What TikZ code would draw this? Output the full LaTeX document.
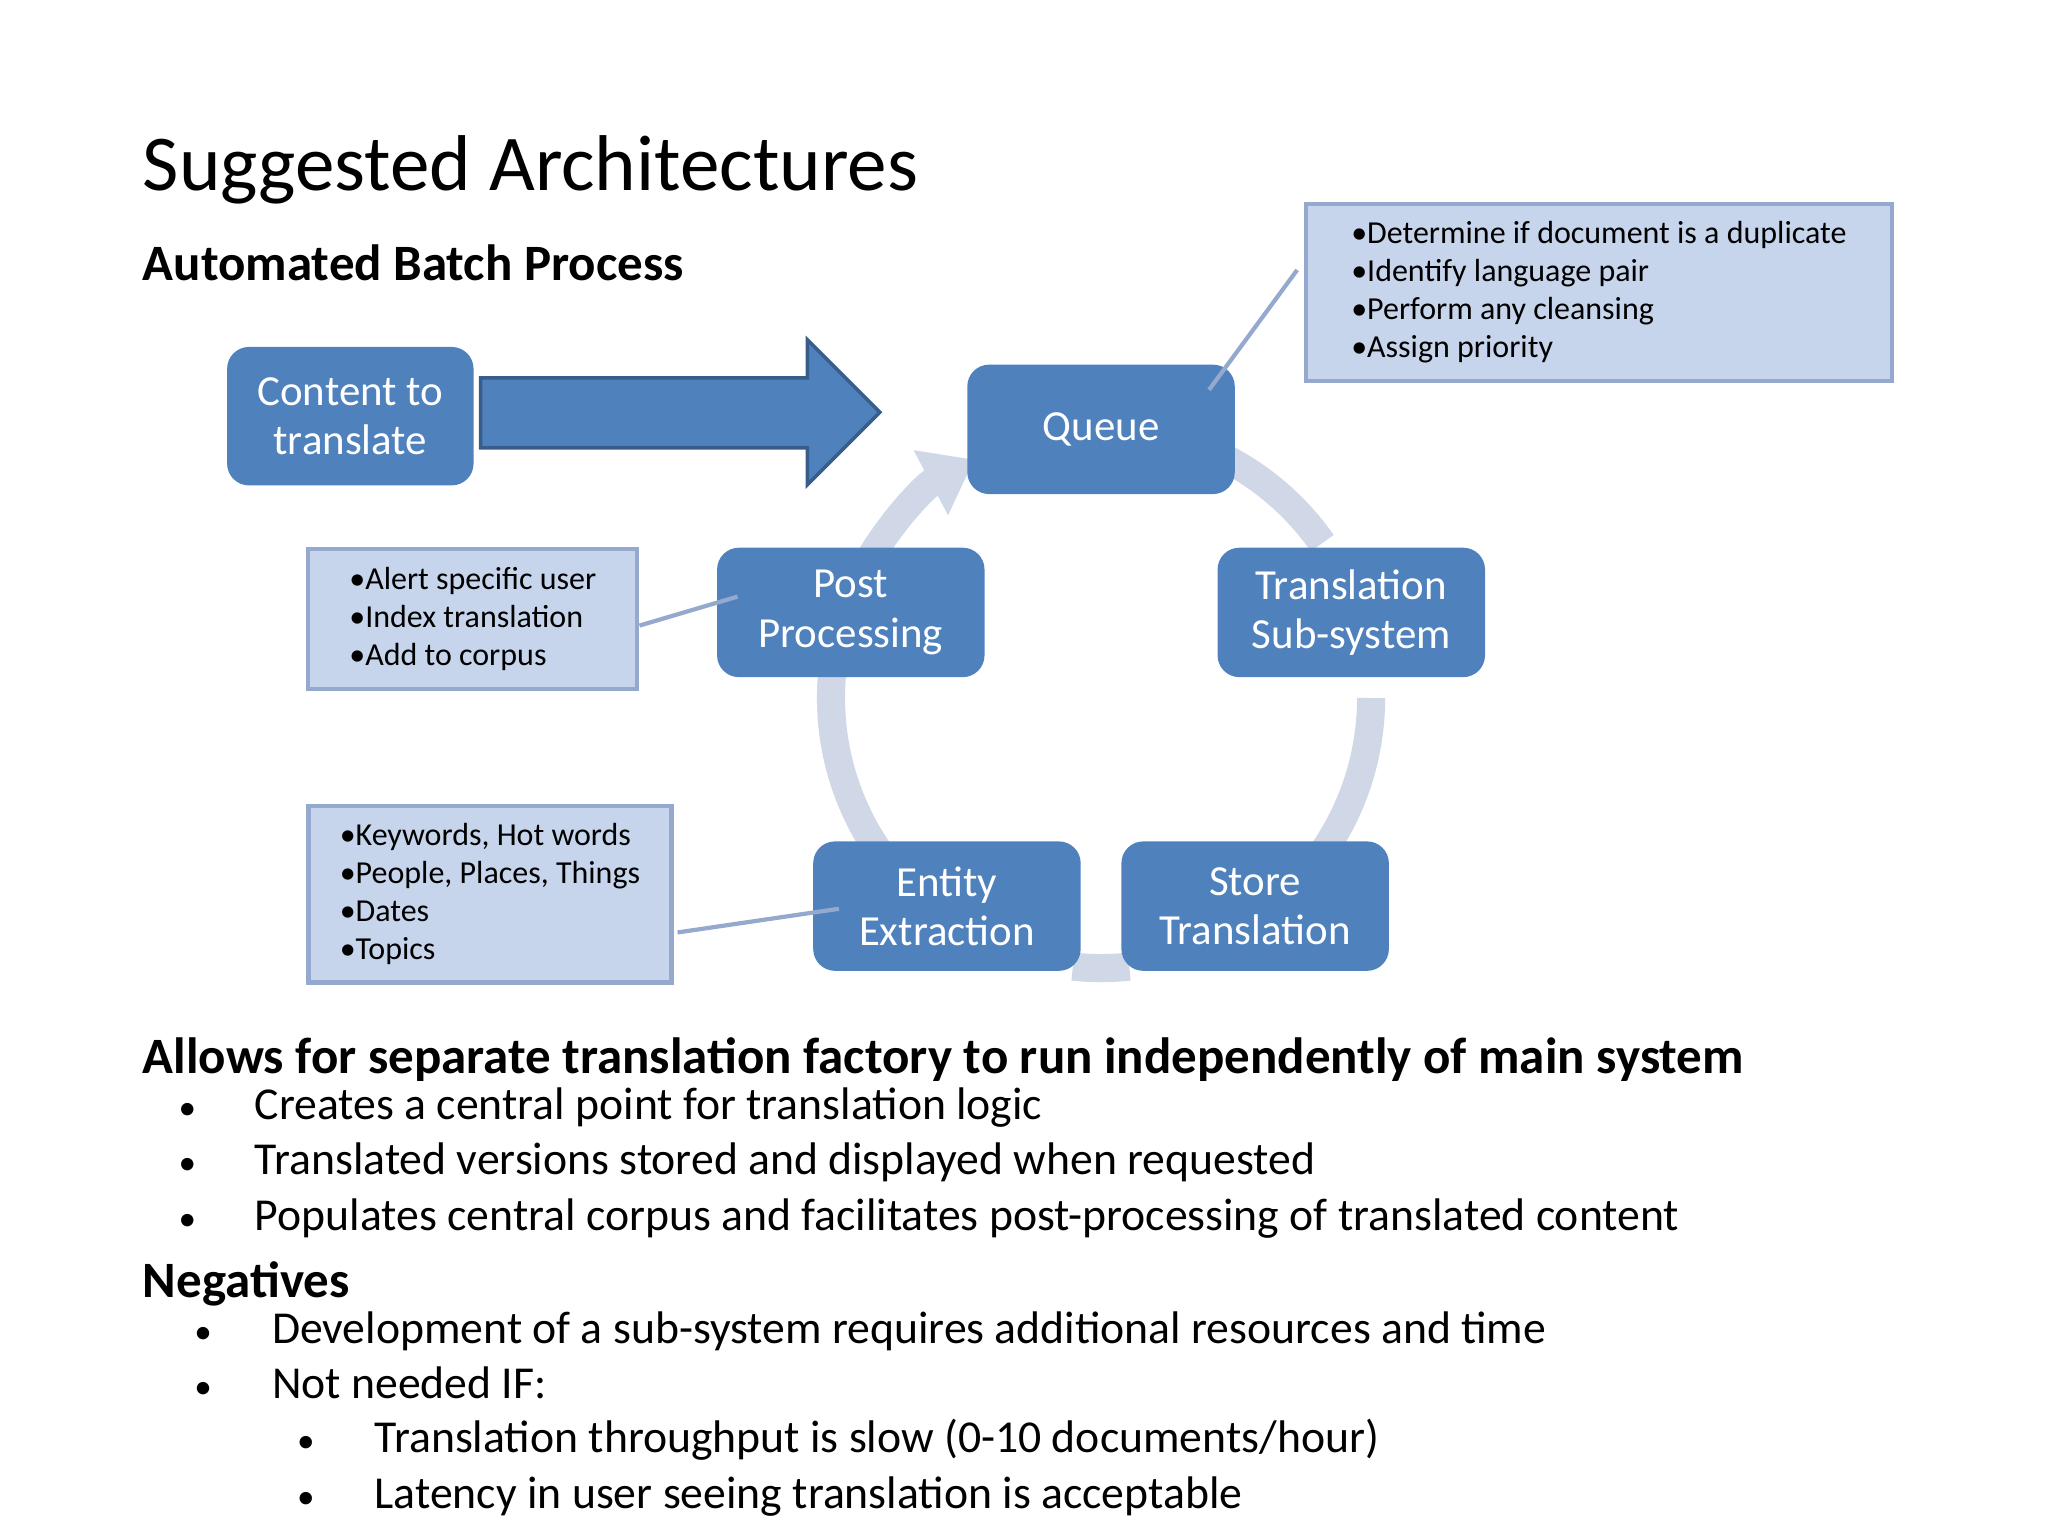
\documentclass[tikz,border=0pt]{standalone}
\usepackage{fontspec}
\setmainfont{Carlito}
\usetikzlibrary{positioning,arrows.meta}
\definecolor{procblue}{HTML}{4F81BD}
\definecolor{procdark}{HTML}{385D8A}
\definecolor{notefill}{HTML}{C6D5EC}
\definecolor{noteline}{HTML}{95A9CF}
\definecolor{cycle}{HTML}{D0D8E8}
\tikzset{
  proc/.style={draw=procblue, fill=procblue, rounded corners=6pt, text=white,
    minimum width=2.66cm, minimum height=1.28cm, align=center, font=\fontsize{12.2}{14}\selectfont},
  note/.style={draw=noteline, line width=1.2pt, fill=notefill, align=left,
    inner sep=5pt, font=\fontsize{9.1}{10.8}\selectfont},
  link/.style={draw=noteline, line width=1.2pt},
  ring/.style={draw=cycle, line width=8pt},
  para/.style={anchor=base west, inner sep=0pt, font=\fontsize{13}{15.6}\selectfont},
  dot/.style={anchor=base west, inner sep=0pt, font=\fontsize{10}{12}\selectfont}
}
\begin{document}
\begin{tikzpicture}[x=0.01317cm, y=0.01317cm]
  \useasboundingbox (0,0) rectangle (1555,1166);

  % Headings
  \node[anchor=base west, inner sep=0pt, font=\fontsize{22.5}{27}\selectfont] (title) at (108,1021) {Suggested Architectures};
  \node[anchor=base west, inner sep=0pt, font=\bfseries\fontsize{14.5}{17}\selectfont] (sub) at (108,953) {Automated Batch Process};

  % Cycle ring
  \coordinate (ctr) at (836,636);
  \draw[ring] (ctr) ++(73:2.7cm) arc (73:35:2.7cm);
  \draw[ring] (ctr) ++(0:2.7cm) arc (0:-38:2.7cm);
  \draw[ring] (ctr) ++(-84:2.7cm) arc (-84:-96:2.7cm);
  \draw[ring] (ctr) ++(-142:2.7cm) arc (-142:-190:2.7cm);
  \draw[ring, -{Triangle[length=14pt,width=20pt]}] (ctr) ++(153:2.7cm) arc (153:118:2.7cm);

  % Process boxes
  \node[proc, minimum width=2.45cm, minimum height=1.37cm] (content) at (266,850) {Content to\\translate};
  \node[proc] (queue) at (836,840) {Queue};
  \node[proc] (trans) at (1026,701) {Translation\\Sub-system};
  \node[proc] (store) at (953,478) {Store\\Translation};
  \node[proc] (entity) at (719,478) {Entity\\Extraction};
  \node[proc] (post) at (646,701) {Post\\Processing};

  % Big arrow
  \draw[fill=procblue, draw=procdark, line width=1pt]
    (365,879) -- (613,879) -- (613,908) -- (668,853) -- (613,798) -- (613,826) -- (365,826) -- cycle;

  % Notes
  \node[note, minimum width=5.86cm, minimum height=1.74cm] (qnote) at (1214,944)
    {•Determine if document is a duplicate\\•Identify language pair\\•Perform any cleansing\\•Assign priority};
  \node[note, minimum width=3.29cm, minimum height=1.40cm] (pnote) at (359,696)
    {•Alert specific user\\•Index translation\\•Add to corpus};
  \node[note, minimum width=3.63cm, minimum height=1.74cm] (enote) at (372,487)
    {•Keywords, Hot words\\•People, Places, Things\\•Dates\\•Topics};

  % Note connectors
  \coordinate (qend) at (918,870);
  \coordinate (pend) at (560,713);
  \coordinate (eend) at (637,476);
  \draw[link] (qnote.west) ++(-5,17) -- (qend);
  \draw[link] (pnote.east) ++(0,-5) -- (pend);
  \draw[link] (enote.east) ++(3,-29) -- (eend);

  % Body text
  \node[para, font=\bfseries\fontsize{14.5}{17}\selectfont] (allows) at (108,351) {Allows for separate translation factory to run independently of main system};
  \node[para] (b1) at (193,316) {Creates a central point for translation logic};
  \node[para] (b2) at (193,274) {Translated versions stored and displayed when requested};
  \node[para] (b3) at (193,232) {Populates central corpus and facilitates post-processing of translated content};
  \foreach \y in {316,274,232} \node[dot] at (135,\y) {•};
  \node[para, font=\bfseries\fontsize{14.5}{17}\selectfont] (neg) at (108,181) {Negatives};
  \node[para] (n1) at (206,146) {Development of a sub-system requires additional resources and time};
  \node[para] (n2) at (206,104) {Not needed IF:};
  \foreach \y in {146,104} \node[dot] at (147,\y) {•};
  \node[para] (s1) at (284,63) {Translation throughput is slow (0-10 documents/hour)};
  \node[para] (s2) at (284,21) {Latency in user seeing translation is acceptable};
  \foreach \y in {63,21} \node[dot] at (225,\y) {•};
\end{tikzpicture}
\end{document}
